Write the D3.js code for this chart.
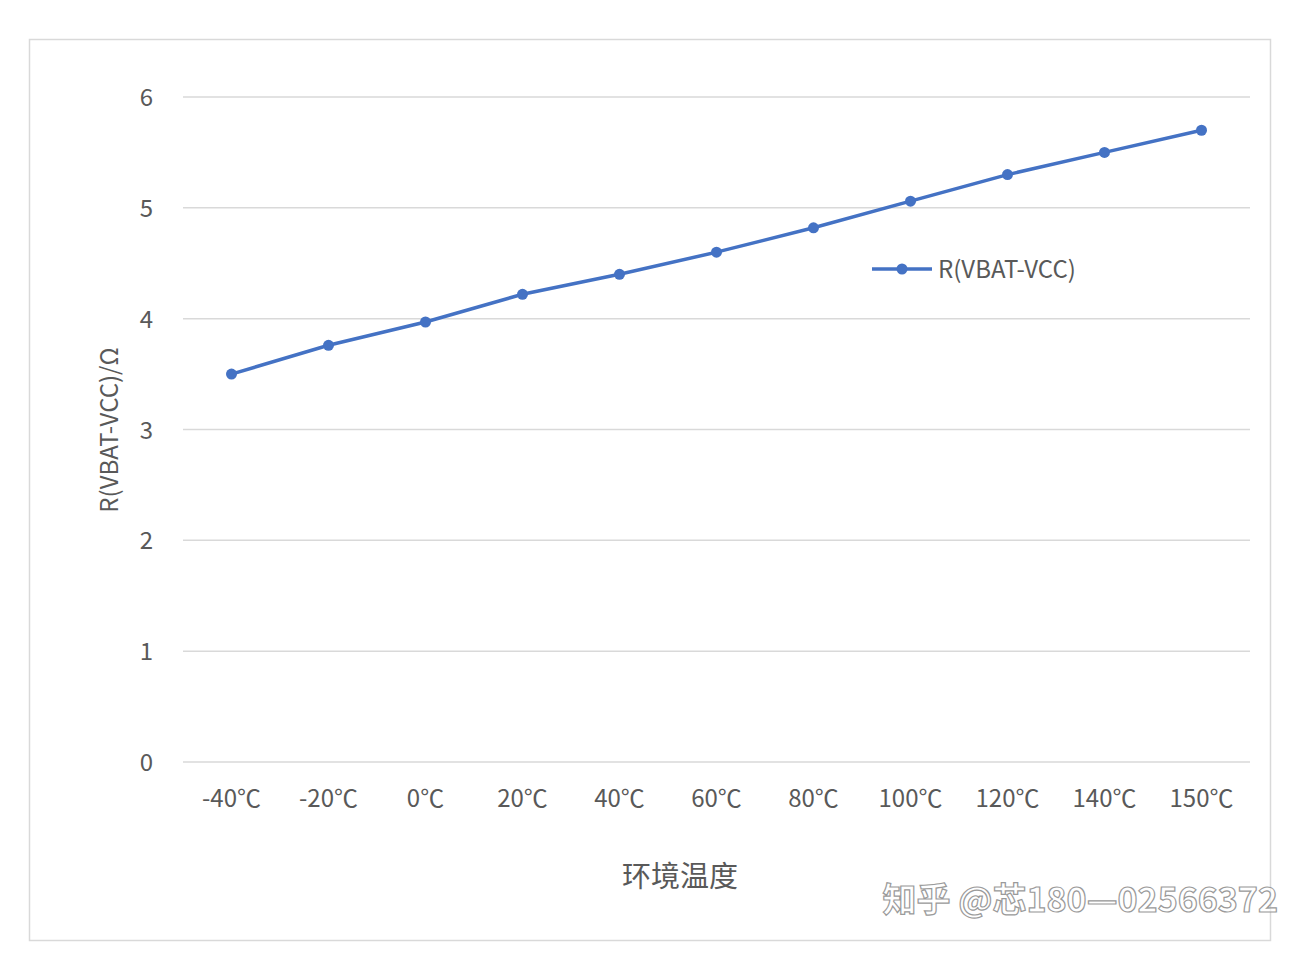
<!DOCTYPE html>
<html>
<head>
<meta charset="utf-8">
<script src="https://cdn.jsdelivr.net/npm/d3@7"></script>
<style>body{margin:0;background:#fff;} text{font-family:"Noto Sans CJK SC","Noto Sans",sans-serif;}</style>
</head>
<body>
<div id="canvas"></div>
<script>
"use strict";

// Data
let categories = ["-40℃", "-20℃", "0℃", "20℃", "40℃", "60℃", "80℃", "100℃", "120℃", "140℃", "150℃"];
let resistance = [3.5, 3.76, 3.97, 4.22, 4.40, 4.60, 4.82, 5.06, 5.30, 5.50, 5.70];
let yTicks = [0, 1, 2, 3, 4, 5, 6];
let seriesName = "R(VBAT-VCC)";

let svgWidth = 1311, svgHeight = 953;
let plotLeft = 183, plotRight = 1250, plotTop = 97, plotBottom = 762;

let svg = d3.select("#canvas").append("svg")
    .attr("width", svgWidth).attr("height", svgHeight);

// outer frame
svg.append("rect")
    .attr("x", 29.5).attr("y", 39.5)
    .attr("width", 1241).attr("height", 901)
    .attr("fill", "white").attr("stroke", "#d9d9d9").attr("stroke-width", 1.5);

let xScale = d3.scaleBand().domain(categories).range([plotLeft, plotRight]);
let yScale = d3.scaleLinear().domain([0, 6]).range([plotBottom, plotTop]);

// gridlines
svg.selectAll("line.grid")
    .data(yTicks)
    .join("line")
    .attr("x1", plotLeft).attr("x2", plotRight)
    .attr("y1", d => yScale(d)).attr("y2", d => yScale(d))
    .attr("stroke", "#d9d9d9").attr("stroke-width", 1.5);

// y tick labels
svg.selectAll("text.ytick")
    .data(yTicks)
    .join("text")
    .attr("x", 153).attr("y", d => yScale(d) + 9)
    .attr("text-anchor", "end")
    .attr("font-size", 24).attr("fill", "#595959")
    .text(d => d);

// x tick labels
svg.selectAll("text.xtick")
    .data(categories)
    .join("text")
    .attr("x", d => xScale(d) + xScale.bandwidth() / 2)
    .attr("y", 807)
    .attr("text-anchor", "middle")
    .attr("font-size", 24).attr("fill", "#595959")
    .text(d => d);

// axis titles
svg.append("text")
    .attr("x", 680).attr("y", 887)
    .attr("text-anchor", "middle")
    .attr("font-size", 29).attr("fill", "#595959")
    .text("环境温度");

svg.append("text")
    .attr("transform", "translate(118, 430) rotate(-90)")
    .attr("text-anchor", "middle")
    .attr("font-size", 24).attr("fill", "#595959")
    .text("R(VBAT-VCC)/Ω");

// line and markers
let pts = categories.map((c, i) => ({c: c, v: resistance[i]}));
let line = d3.line()
    .x(d => xScale(d.c) + xScale.bandwidth() / 2)
    .y(d => yScale(d.v));

svg.append("path")
    .datum(pts)
    .attr("d", line)
    .attr("fill", "none").attr("stroke", "#4472c4").attr("stroke-width", 3.5);

svg.selectAll("circle.pt")
    .data(pts)
    .join("circle")
    .attr("cx", d => xScale(d.c) + xScale.bandwidth() / 2)
    .attr("cy", d => yScale(d.v))
    .attr("r", 5.5).attr("fill", "#4472c4");

// legend
svg.append("line")
    .attr("x1", 872).attr("x2", 932).attr("y1", 269).attr("y2", 269)
    .attr("stroke", "#4472c4").attr("stroke-width", 3.5);
svg.append("circle").attr("cx", 902).attr("cy", 269).attr("r", 5.5).attr("fill", "#4472c4");
svg.append("text")
    .attr("x", 938).attr("y", 278)
    .attr("font-size", 24).attr("fill", "#595959")
    .text(seriesName);

// watermark
svg.append("text")
    .attr("x", 1278).attr("y", 912)
    .attr("text-anchor", "end")
    .attr("font-size", 34).attr("font-weight", "bold")
    .attr("fill", "#ffffff").attr("fill-opacity", 0.6)
    .attr("stroke", "#9a9a9a").attr("stroke-width", 1.2)
    .text("知乎 @芯180—02566372");
</script>
</body>
</html>
